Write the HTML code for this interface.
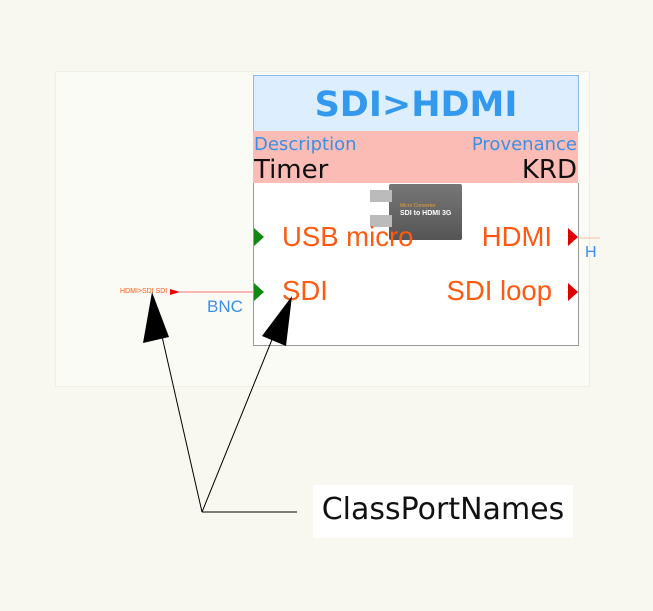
<html><body style="margin:0;width:653px;height:611px;background:#f8f8f0;position:relative;overflow:hidden;font-family:'Liberation Sans',sans-serif">
<div style="position:absolute;left:55px;top:71px;width:533px;height:314px;border:1px solid #eeeee6;background:#fbfbf6"></div>
<div style="position:absolute;left:253px;top:75px;width:324px;height:55px;background:#ddeeff;border:1px solid #88bbee;text-align:center;font:bold 35px 'DejaVu Sans',sans-serif;color:#3399ee;line-height:58px">SDI&gt;HDMI</div>
<div style="position:absolute;left:253px;top:131px;width:325px;height:52px;background:#fcbcb6"></div>
<div style="position:absolute;left:254px;top:134px;font:18px 'DejaVu Sans',sans-serif;color:#3a8fe6">Description</div>
<div style="position:absolute;right:76px;top:134px;font:18px 'DejaVu Sans',sans-serif;color:#3a8fe6">Provenance</div>
<div style="position:absolute;left:254px;top:155px;font:26px 'DejaVu Sans',sans-serif;color:#111">Timer</div>
<div style="position:absolute;right:76px;top:155px;font:26px 'DejaVu Sans',sans-serif;color:#111">KRD</div>
<div style="position:absolute;left:253px;top:183px;width:324px;height:162px;background:#fff;border:1px solid #999;border-top:none"></div>
<div style="position:absolute;left:389px;top:184px;width:73px;height:56px;background:linear-gradient(#777,#555);border-radius:2px"></div>
<div style="position:absolute;left:370px;top:190px;width:22px;height:12px;background:#bbb"></div>
<div style="position:absolute;left:370px;top:215px;width:22px;height:12px;background:#bbb"></div>
<div style="position:absolute;left:400px;top:210px;font:bold 7px sans-serif;color:#fff">SDI to HDMI 3G</div>
<div style="position:absolute;left:400px;top:203px;font:5px sans-serif;color:#e8a040">Micro Converter</div>
<div style="position:absolute;left:282px;top:221px;font:27.5px 'Liberation Sans',sans-serif;color:#ff5a10">USB micro</div>
<div style="position:absolute;right:101px;top:221px;font:27.5px 'Liberation Sans',sans-serif;color:#ff5a10">HDMI</div>
<div style="position:absolute;left:282px;top:275px;font:27.5px 'Liberation Sans',sans-serif;color:#ff5a10">SDI</div>
<div style="position:absolute;right:101px;top:275px;font:27.5px 'Liberation Sans',sans-serif;color:#ff5a10">SDI loop</div>
<div style="position:absolute;left:207px;top:297px;font:17px 'Liberation Sans',sans-serif;color:#3a8fe6">BNC</div>
<div style="position:absolute;left:585px;top:244px;font:16px 'Liberation Sans',sans-serif;color:#3a8fe6">H</div>
<div style="position:absolute;left:120px;top:288px;font:7px 'Liberation Sans',sans-serif;color:#ff5a10">HDMI&gt;SDI SDI</div>
<svg width="653" height="611" style="position:absolute;left:0;top:0">
<line x1="180" y1="292" x2="253" y2="292" stroke="#f8a0a0" stroke-width="1.5"/>
<line x1="578" y1="238" x2="600" y2="238" stroke="#f8c0a0" stroke-width="1"/>
<polygon points="170,289 180,292 170,295" fill="#e00"/>
<polygon points="254,228 264,237 254,246" fill="#118811"/>
<polygon points="254,283 264,292 254,301" fill="#118811"/>
<polygon points="568,228 578,237 568,246" fill="#dd0000"/>
<polygon points="568,283 578,292 568,301" fill="#dd0000"/>
<line x1="202" y1="512" x2="156" y2="310" stroke="#000"/>
<line x1="202" y1="512" x2="282" y2="315" stroke="#000"/>
<line x1="202" y1="512" x2="297" y2="512" stroke="#000"/>
<polygon points="152,292 169,337 143,343" fill="#000"/>
<polygon points="292,296 286,346 262,336" fill="#000"/>
</svg>
<div style="position:absolute;left:313px;top:485px;width:260px;height:53px;background:#fff;font:30px 'DejaVu Sans',sans-serif;color:#111;line-height:50px;text-align:center">ClassPortNames</div>
</body></html>
